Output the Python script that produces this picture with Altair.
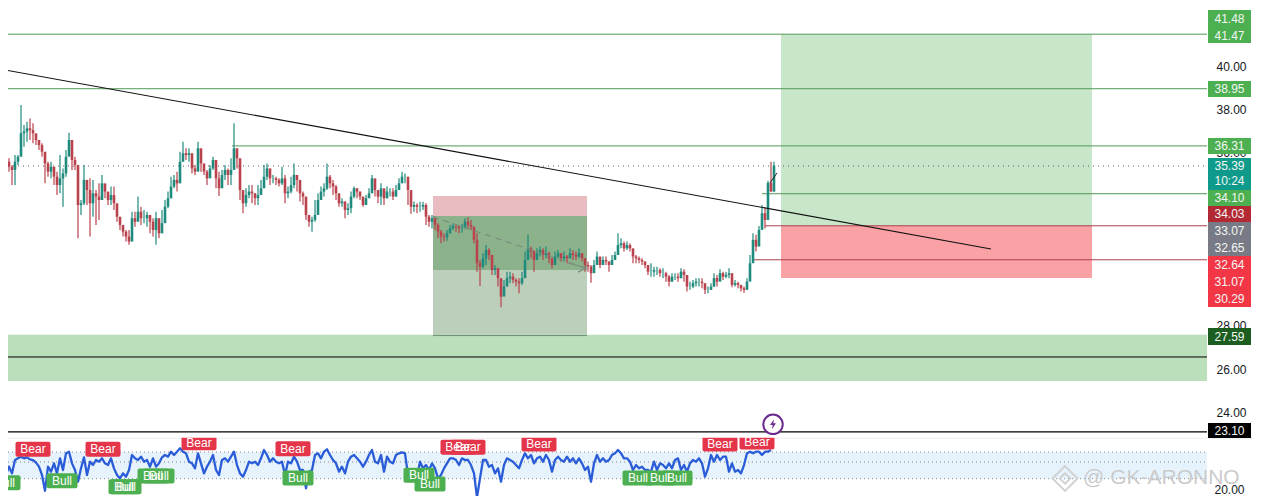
import altair as alt
import pandas as pd

FONT = "Liberation Sans"

closes = [35.27,36.04,35.58,35.35,35.20,35.58,35.81,36.89,36.97,37.12,37.04,36.89,36.58,36.35,36.04,35.50,35.12,35.35,34.89,34.50,34.81,35.04,35.81,36.58,35.66,35.43,33.58,33.66,34.74,34.27,33.66,34.12,33.97,33.81,34.58,34.20,33.81,34.04,33.66,33.04,32.66,32.35,32.12,31.89,32.97,32.81,33.27,32.97,32.97,33.12,32.81,32.43,32.97,32.27,32.74,33.50,33.89,34.43,34.74,34.58,35.58,35.97,35.89,35.97,35.27,35.12,36.20,35.50,35.12,34.81,35.27,35.66,34.81,34.35,34.97,35.20,34.97,35.20,36.20,35.74,34.27,33.66,34.04,34.20,34.12,33.89,34.04,34.35,34.89,35.27,34.81,34.81,34.74,34.58,34.81,34.12,34.20,34.50,34.97,34.74,34.12,33.97,33.12,32.81,32.89,33.12,33.81,34.20,34.35,34.89,34.58,34.43,34.12,33.66,33.74,33.35,33.43,33.97,34.35,34.20,33.97,33.58,33.89,34.12,34.81,34.27,33.97,34.35,33.89,34.20,34.20,33.97,34.27,34.58,34.89,34.89,34.27,33.50,33.58,33.50,
33.50,33.58,33.04,32.81,32.97,32.66,32.35,32.12,32.09,32.27,32.50,32.61,32.58,32.50,32.50,32.81,32.66,32.58,31.97,30.89,30.74,31.12,31.50,31.27,30.58,30.66,30.20,29.35,29.81,30.20,30.27,30.12,30.04,29.97,30.20,31.04,31.58,31.43,31.04,31.35,31.50,31.27,31.35,31.12,30.81,31.20,31.35,31.12,31.20,31.12,31.35,31.27,31.20,31.35,31.12,30.81,30.74,30.43,30.81,31.20,30.81,31.04,30.97,30.81,31.04,31.27,31.73,31.81,31.58,31.73,31.58,31.20,31.12,31.04,30.97,30.81,30.50,30.50,30.58,30.58,30.43,30.43,30.27,30.04,30.27,30.27,30.20,30.50,30.35,29.81,29.81,29.97,30.04,30.04,29.97,29.66,29.66,29.81,30.20,30.04,30.43,30.27,30.35,30.43,29.89,29.97,29.89,29.73,29.66,30.04,30.89,31.97,31.66,32.43,33.20,32.89,34.60,34.20,35.40]

highs = [35.51,36.24,36.12,35.74,35.43,35.89,35.89,38.20,37.27,37.43,37.58,37.35,36.81,36.58,36.43,35.74,35.58,35.58,35.27,35.12,35.89,35.27,36.12,36.92,36.04,35.81,35.27,33.81,35.43,34.74,34.81,34.74,34.27,34.58,34.97,34.43,34.12,34.43,34.43,33.50,32.97,32.66,32.43,32.43,33.27,33.27,33.97,33.50,33.35,33.27,33.04,32.97,33.27,32.89,33.35,33.81,34.20,34.89,34.97,35.12,36.04,36.50,36.20,36.20,35.74,35.43,36.50,35.97,35.35,35.20,35.43,35.81,35.35,35.12,35.20,35.43,35.27,35.74,37.35,36.04,35.20,34.12,34.35,34.50,34.50,34.12,34.50,34.74,35.43,35.50,35.12,34.97,34.89,34.81,35.35,34.97,34.43,34.89,35.50,34.97,34.43,34.20,33.66,33.12,33.04,33.81,34.12,34.43,34.58,35.50,34.97,34.74,34.50,33.97,33.89,33.74,33.66,34.20,34.43,34.35,34.20,33.81,34.04,34.35,34.97,34.50,34.20,34.58,34.27,34.43,34.35,34.35,34.50,34.81,35.12,35.04,34.74,33.81,33.74,33.66,
33.73,33.73,33.66,33.12,33.12,33.04,32.74,32.43,32.27,32.43,32.66,32.74,32.70,32.66,32.70,32.97,33.01,32.89,32.43,32.27,31.04,31.35,31.73,31.58,31.04,30.81,30.66,29.97,30.12,30.50,30.50,30.43,30.20,30.20,30.50,31.43,32.20,31.66,31.50,31.58,31.66,31.58,31.66,31.43,31.12,31.43,31.50,31.35,31.43,31.27,31.58,31.50,31.43,31.58,31.35,31.12,30.97,30.81,31.04,31.43,31.12,31.20,31.20,30.97,31.27,31.43,32.27,32.04,31.89,31.89,31.81,31.43,31.27,31.20,31.12,30.97,30.73,30.89,30.73,30.73,30.66,30.66,30.50,30.35,30.43,30.43,30.43,30.66,30.61,30.12,30.04,30.12,30.20,30.20,30.20,29.89,29.81,29.97,30.43,30.35,30.61,30.50,30.50,30.66,30.20,30.12,30.04,29.89,29.81,30.20,31.27,32.27,32.20,32.61,33.58,33.43,34.70,35.58,35.58]

lows = [35.20,35.20,34.50,35.12,34.50,34.50,35.43,35.97,36.27,36.50,36.58,36.43,36.35,36.12,35.81,34.58,34.89,34.81,34.50,34.04,34.12,33.50,34.89,35.97,35.20,35.20,32.04,33.12,33.58,33.58,32.12,33.04,32.66,32.89,34.12,33.89,33.58,33.58,33.35,32.81,32.43,32.12,31.89,31.74,32.43,32.58,32.81,32.66,32.74,32.58,32.27,32.12,31.74,32.04,32.58,32.89,33.43,33.89,34.35,34.20,35.04,35.58,35.66,35.58,35.04,34.97,35.58,35.12,34.97,34.50,34.89,35.20,34.35,34.00,34.50,34.74,34.50,34.50,35.27,35.27,33.81,33.20,33.50,33.89,33.66,33.58,33.58,34.04,34.50,34.74,34.50,34.58,34.50,34.43,34.50,33.66,33.89,34.12,34.35,34.20,33.74,33.58,32.89,32.58,32.35,32.81,33.35,33.81,33.97,34.27,34.35,34.04,33.81,33.50,33.50,32.97,33.12,33.20,33.89,33.89,33.81,33.50,33.74,33.97,34.35,33.97,33.66,33.58,33.58,33.89,33.97,33.81,33.97,34.27,34.66,34.58,33.58,33.17,33.27,33.20,
33.27,33.35,32.66,32.58,32.50,32.43,32.04,31.81,31.89,31.93,32.27,32.43,32.35,32.27,32.30,32.50,32.50,32.43,31.81,30.50,29.84,30.66,30.81,31.04,30.35,30.35,29.81,28.86,29.50,29.89,29.97,29.97,29.81,29.50,29.89,30.50,31.20,31.12,30.50,31.04,31.20,31.04,31.12,30.89,30.66,30.97,31.12,30.97,30.97,30.89,31.12,31.04,31.04,31.12,30.97,30.50,30.50,29.99,30.58,30.81,30.66,30.81,30.81,30.50,30.81,31.04,31.35,31.58,31.43,31.50,31.43,30.89,30.89,30.89,30.81,30.66,30.35,30.27,30.27,30.35,30.27,30.20,30.04,29.81,30.04,30.12,30.04,30.20,30.04,29.58,29.66,29.73,29.81,29.81,29.73,29.47,29.50,29.66,29.81,29.81,30.12,30.12,30.20,30.20,29.78,29.81,29.73,29.58,29.53,29.73,30.35,31.50,31.43,31.81,32.50,32.50,32.96,34.20,34.20]

rsi_values = [38,50.5,35.5,48,38,58,60.5,63,60.5,62,59,58,54,48,35.5,12,48,40.5,53,38,60.5,43,68,70.5,53,43,25.5,45.5,62,35.5,55.5,50.5,58,55.5,60.5,53,50.5,60.5,45.5,35.5,30.5,38,33,43,65.5,60.5,58,63,55.5,58,48,60.5,48,53,62,65.5,63,70.5,65.5,70.5,75.5,70.5,68,55.5,53,45.5,68,53,38,48,55.5,65.5,43,35.5,58,60.5,55.5,63,70.5,50.5,38,33,43,55.5,53,55.5,50.5,60.5,73,65.5,55.5,60.5,55.5,53,55.5,35.5,55.5,53,63,55.5,43,43,15.5,40.5,43,65.5,68,60.5,70.5,74,65.5,58,53,40.5,48,38,55.5,63,65.5,60.5,55.5,48,55.5,65.5,73,55.5,53,65.5,40.5,63,55.5,53,65.5,68,69.5,68,35.5,28,38,33,
55.5,45.5,50.5,43,53,45.5,30.5,35.5,45.5,53,60.5,60.5,58,50.5,60.5,58,58,50.5,38,2,30.5,58,58,48,50.5,38,45.5,25.5,50.5,60.5,58,55.5,50.5,45.5,58,68,60.5,65.5,53,60.5,63,55.5,65.5,58,40.5,58,63,58,55.5,63,55.5,60.5,53,60.5,53,43,48,25.5,53,65.5,55.5,60.5,55.5,58,65.5,68,73,68,60.5,60.5,55.5,43,50.5,45.5,48,43,43,40.5,55.5,43,53,50.5,45.5,53,45.5,58,60.5,43,50.5,40.5,53,58,55.5,60.5,53,33,45.5,65.5,55.5,65.5,58,63,63,40.5,53,40.5,43,38,50.5,68,70.5,68,70.5,70.5,65.5,70.5,70.5,73]

BAR_STEP = 3
n = min(len(closes), len(highs), len(lows))
opens = [closes[0]] + closes[:n - 1]
candles = pd.DataFrame({"t": [BAR_STEP * i for i in range(n)], "o": opens, "c": closes[:n], "h": highs[:n], "l": lows[:n]})
candles["col"] = ["#1f8a7e" if c >= o else "#b9424c" for o, c in zip(opens, closes[:n])]
rsi_df = pd.DataFrame({"t": [BAR_STEP * i for i in range(len(rsi_values))], "r": rsi_values})

# filled price zones: start, end, top price, bottom price, colour
zone_start = [781, 781, 433, 433, 433, 8]
zone_end = [1092, 1092, 587, 587, 587, 1207]
zone_top = [41.47, 32.62, 34.00, 33.07, 30.58, 27.59]
zone_bot = [32.62, 30.21, 33.07, 30.58, 27.55, 25.45]
zone_col = ["#c8e6c9", "#faa1a5", "#e8bcc1", "#8cb28c", "#bbcfbb", "#bbdfbb"]
zones = pd.DataFrame({"a": zone_start, "b": zone_end, "p": zone_top, "q": zone_bot, "col": zone_col})

# horizontal levels
lvl_start = [8, 8, 232, 762, 765, 752, 433, 8, 8]
lvl_end = [1207, 1207, 1207, 1207, 1207, 1207, 587, 1207, 1253]
lvl_price = [41.47, 38.95, 36.31, 34.10, 32.62, 31.05, 27.55, 26.56, 22.82]
lvl_col = ["#4f9a55", "#4f9a55", "#4f9a55", "#4f9a55", "#a8404c", "#a8404c", "#6f8f72", "#000000", "#e0e3eb"]
levels = pd.DataFrame({"a": lvl_start, "b": lvl_end, "p": lvl_price, "col": lvl_col})

last_price = pd.DataFrame({"a": [8], "b": [1207], "p": [35.38]})

trend = pd.DataFrame({"t": [0, 991], "p": [39.86, 31.55]})
stub = pd.DataFrame({"t": [770, 777], "p": [34.60, 35.06]})
path_line = pd.DataFrame({"t": [433, 585], "p": [33.03, 30.67]})
head_t = [578, 586, 568, 586]
head_p = [30.48, 30.67, 30.90, 30.67]
head_g = ["a", "a", "b", "b"]
head = pd.DataFrame({"t": head_t, "p": head_p, "g": head_g})

# right-hand price tags
tag_top = [42.59, 39.31, 36.67, 35.75, 34.27, 33.53, 32.79, 31.22, 27.90, 23.51]
tag_bot = [41.06, 38.57, 35.94, 34.27, 33.53, 32.79, 31.22, 28.87, 27.11, 22.82]
tag_col = ["#4caf50", "#4caf50", "#4caf50", "#0e9b8c", "#4caf50", "#b22833", "#787b86", "#f23645", "#1b5e20", "#000000"]
tags = pd.DataFrame({"a": [1208] * 10, "b": [1251] * 10, "p": tag_top, "q": tag_bot, "col": tag_col})

tag_text = ["41.48", "41.47", "38.95", "36.31", "35.39", "10:24", "34.10", "34.03", "33.07", "32.65", "32.64", "31.07", "30.29", "27.59", "23.10"]
tag_text_p = [42.17, 41.39, 38.94, 36.30, 35.38, 34.69, 33.90, 33.16, 32.38, 31.59, 30.81, 30.02, 29.24, 27.48, 23.14]
tag_texts = pd.DataFrame({"t": [1229.5] * 15, "p": tag_text_p, "s": tag_text})

rsi_levels = pd.DataFrame({"a": [8, 8, 8], "b": [1207, 1207, 1207], "r": [70, 55, 30]})
rsi_band = pd.DataFrame({"a": [8], "b": [1207], "r": [70], "r2": [30]})

bear_t = [33, 103, 199, 293, 458, 468, 539, 720, 757]
bear_r = [74, 74, 84, 75, 77, 77, 82, 82, 85]
bull_t = [5, 62, 124, 126, 153, 159, 298, 419, 430, 638, 660, 677]
bull_r = [24, 27, 18, 18, 34, 34, 31, 35, 22, 31, 31, 31]
bears = pd.DataFrame({"t": bear_t, "r": bear_r, "s": ["Bear"] * len(bear_t)})
bulls = pd.DataFrame({"t": bull_t, "r": bull_r, "s": ["Bull"] * len(bull_t)})

cover = pd.DataFrame({"a": [8], "b": [1207], "p": [23.05], "q": [22.83]})

X_DOMAIN = [8, 1253]
P_DOMAIN = [20.139, 42.679]
PLOT_H = 488

xs = alt.Scale(domain=X_DOMAIN, nice=False, zero=False, padding=0)
ps = alt.Scale(domain=P_DOMAIN, nice=False, zero=False, padding=0)
rs = alt.Scale(domain=[30, 70], range=[470.7, 444], nice=False, zero=False)
X = lambda f: alt.X(f, type="quantitative", scale=xs, axis=None)
X2 = lambda f: alt.X2(f)
P = lambda f: alt.Y(f, type="quantitative", scale=ps, axis=None)
R = lambda f: alt.Y(f, type="quantitative", scale=rs, axis=None)
C = alt.Color("col:N", scale=None)

price_axis = alt.Axis(orient="right", values=[40, 38, 36, 28, 26, 24], format=".2f", domain=False, ticks=False,
                      grid=False, labelFont=FONT, labelFontSize=12, labelColor="#131722", labelPadding=0,
                      offset=-37, title=None, labelFlush=False, labelOverlap=False)

axis_layer = alt.Chart(pd.DataFrame({"t": [8], "p": [40]})).mark_point(opacity=0).encode(
    x=X("t"), y=alt.Y("p:Q", scale=ps, axis=price_axis))

zone_layer = alt.Chart(zones).mark_rect().encode(x=X("a"), x2=X2("b"), y=P("p"), y2=alt.Y2("q"), color=C)

band = alt.Chart(rsi_band).mark_rect(color="#e6f3fd").encode(x=X("a"), x2=X2("b"), y=R("r"), y2=alt.Y2("r2"))
rsi_dots = alt.Chart(rsi_levels).mark_rule(color="#80868f", strokeDash=[1, 3], strokeWidth=1).encode(
    x=X("a"), x2=X2("b"), y=R("r"))

level_layer = alt.Chart(levels).mark_rule(strokeWidth=1).encode(x=X("a"), x2=X2("b"), y=P("p"), color=C)
last_layer = alt.Chart(last_price).mark_rule(color="#555a60", strokeDash=[1, 4], strokeWidth=1).encode(
    x=X("a"), x2=X2("b"), y=P("p"))

wick = alt.Chart(candles).mark_rule(strokeWidth=1.2, clip=True).encode(x=X("t"), y=P("h"), y2=alt.Y2("l"), color=C)
body = alt.Chart(candles).mark_bar(size=2.6, clip=True).encode(x=X("t"), y=P("o"), y2=alt.Y2("c"), color=C)

trend_layer = alt.Chart(trend).mark_line(color="#111111", strokeWidth=1.1, clip=True).encode(x=X("t"), y=P("p"))
stub_layer = alt.Chart(stub).mark_line(color="#222222", strokeWidth=1).encode(x=X("t"), y=P("p"))
path_layer = alt.Chart(path_line).mark_line(color="#7a8f7e", strokeWidth=1.2, strokeDash=[6, 5]).encode(x=X("t"), y=P("p"))
head_layer = alt.Chart(head).mark_line(color="#7a8f7e", strokeWidth=1.2).encode(x=X("t"), y=P("p"), detail="g:N")

rsi_line = alt.Chart(rsi_df).mark_line(color="#2a5cd8", strokeWidth=2.3, strokeJoin="round", clip=True).encode(
    x=X("t"), y=R("r"))

bear_rect = alt.Chart(bears).mark_rect(color="#e5354a", width=35, height=15, cornerRadius=2, clip=True).encode(x=X("t"), y=R("r"))
bear_txt = alt.Chart(bears).mark_text(color="#ffffff", font=FONT, fontSize=12, clip=True).encode(x=X("t"), y=R("r"), text="s:N")
bull_rect = alt.Chart(bulls).mark_rect(color="#4caf50", width=31, height=15, cornerRadius=2, clip=True).encode(x=X("t"), y=R("r"))
bull_txt = alt.Chart(bulls).mark_text(color="#ffffff", font=FONT, fontSize=12, clip=True).encode(x=X("t"), y=R("r"), text="s:N")

cover_layer = alt.Chart(cover).mark_rect(color="#ffffff").encode(x=X("a"), x2=X2("b"), y=P("p"), y2=alt.Y2("q"))
black_line = alt.Chart(pd.DataFrame({"a": [8], "b": [1207], "p": [23.10]})).mark_rule(color="#000000", strokeWidth=1.3).encode(
    x=X("a"), x2=X2("b"), y=P("p"))

tag_layer = alt.Chart(tags).mark_rect().encode(x=X("a"), x2=X2("b"), y=P("p"), y2=alt.Y2("q"), color=C)
tag_txt = alt.Chart(tag_texts).mark_text(color="#f4f7f4", font=FONT, fontSize=12).encode(x=X("t"), y=P("p"), text="s:N")

low_tick = alt.Chart(pd.DataFrame({"t": [1229.5], "p": [20.42], "s": ["20.00"]})).mark_text(
    color="#131722", font=FONT, fontSize=12).encode(x=X("t"), y=P("p"), text="s:N")

bolt_df = pd.DataFrame({"t": [773], "p": [23.45]})
ring = alt.Chart(bolt_df).mark_point(shape="circle", size=380, filled=True, fill="#ffffff", stroke="#6a2a8e", strokeWidth=2, opacity=1).encode(
    x=X("t"), y=P("p"))
bolt = alt.Chart(bolt_df).mark_point(shape="M0.2,-1 L-0.6,0.15 L-0.05,0.15 L-0.2,1 L0.6,-0.2 L0.05,-0.2 Z",
                                     size=100, filled=True, color="#6a2a8e", opacity=1).encode(x=X("t"), y=P("p"))

mark_df = pd.DataFrame({"t": [1065], "p": [20.95]})
logo_outer = alt.Chart(mark_df).mark_point(shape="diamond", size=620, stroke="#d2d2d2", strokeWidth=2, filled=False, opacity=1).encode(x=X("t"), y=P("p"))
logo_inner = alt.Chart(mark_df).mark_point(shape="diamond", size=110, stroke="#d2d2d2", strokeWidth=2, filled=False, opacity=1).encode(x=X("t"), y=P("p"))
water = alt.Chart(pd.DataFrame({"t": [1083], "p": [20.95], "s": ["@ GK-ARONNO"]})).mark_text(
    align="left", baseline="middle", font=FONT, fontSize=21, color="#cbcbcb").encode(x=X("t"), y=P("p"), text="s:N")

chart = alt.layer(
    axis_layer, band, rsi_dots, zone_layer, level_layer, last_layer, wick, body, trend_layer, stub_layer,
    path_layer, head_layer, rsi_line, bear_rect, bear_txt, bull_rect, bull_txt, cover_layer, black_line,
    tag_layer, tag_txt, low_tick, ring, bolt, logo_outer, logo_inner, water,
).resolve_scale(y="independent").properties(
    width=1245, height=PLOT_H, padding=0, autosize=alt.AutoSizeParams(type="none"), background="#ffffff"
).configure_view(stroke=None)

chart.save("out.html", embed_options={"renderer": "svg", "actions": False})
